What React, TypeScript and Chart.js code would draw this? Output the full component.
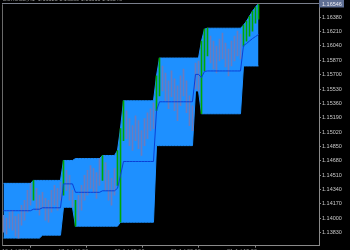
import React, { useEffect, useRef } from "react";
import { Chart, registerables } from "chart.js";

Chart.register(...registerables);

// ---- data ----
const chartTitle = "EURUSD,H1  1.16525 1.16560 1.16510 1.16546";
const bidPrice = 1.16546;

const priceTicks = [
  1.1638, 1.1621, 1.1604, 1.1587, 1.157, 1.1553, 1.1536, 1.1519,
  1.1502, 1.1485, 1.1468, 1.1451, 1.1434, 1.1417, 1.14, 1.1383,
];

const dateLabels = ["16 Jul 2020", "17 Jul 10:00", "20 Jul 05:00", "21 Jul 00:00", "21 Jul 19:00"];

const upperBand = [
  1.14413, 1.14413, 1.14413, 1.14413, 1.14413, 1.14413, 1.14413, 1.14413, 1.14413, 1.14413,
  1.14448, 1.14448, 1.14448, 1.14448, 1.14448, 1.14448, 1.14448, 1.14448, 1.14448, 1.14448,
  1.14684, 1.14684, 1.14684, 1.14684, 1.14707, 1.14707, 1.14707, 1.14707, 1.14707, 1.14707,
  1.14707, 1.14707, 1.14707, 1.14743, 1.14743, 1.14743, 1.14743, 1.14743, 1.14802, 1.15061,
  1.15391, 1.15391, 1.15391, 1.15391, 1.15391, 1.15391, 1.15391, 1.15391, 1.15391, 1.15391,
  1.15391, 1.15685, 1.15897, 1.15897, 1.15897, 1.15897, 1.15897, 1.15897, 1.15897, 1.15897,
  1.15897, 1.15897, 1.15897, 1.15897, 1.15897, 1.15897, 1.16097, 1.16239, 1.1625, 1.1625,
  1.1625, 1.1625, 1.1625, 1.1625, 1.1625, 1.1625, 1.1625, 1.1625, 1.1625, 1.1625,
  1.16286, 1.16333, 1.16392, 1.16451, 1.16498, 1.16546,
];

const lowerBand = [
  1.13765, 1.13765, 1.13765, 1.13765, 1.13765, 1.13765, 1.13765, 1.13765, 1.13765, 1.13765,
  1.13765, 1.13765, 1.13765, 1.138, 1.138, 1.138, 1.138, 1.138, 1.138, 1.138,
  1.1413, 1.1413, 1.1413, 1.1413, 1.13906, 1.13906, 1.13906, 1.13906, 1.13906, 1.13906,
  1.13906, 1.13906, 1.13906, 1.13906, 1.13906, 1.13906, 1.13906, 1.13906, 1.13906, 1.13953,
  1.13953, 1.13953, 1.13953, 1.13953, 1.13953, 1.13953, 1.13953, 1.13953, 1.13953, 1.13953,
  1.13953, 1.1486, 1.1486, 1.1486, 1.1486, 1.1486, 1.1486, 1.1486, 1.1486, 1.1486,
  1.1486, 1.1486, 1.1486, 1.1486, 1.15508, 1.15508, 1.15237, 1.15237, 1.15237, 1.15237,
  1.15237, 1.15237, 1.15237, 1.15237, 1.15237, 1.15237, 1.15237, 1.15237, 1.15237, 1.15237,
  1.15803, 1.15803, 1.15803, 1.15803, 1.15803, 1.15803,
];

const middleBand = [
  1.14089, 1.14089, 1.14089, 1.14089, 1.14089, 1.14089, 1.14089, 1.14089, 1.14089, 1.14089,
  1.14107, 1.14107, 1.14107, 1.14124, 1.14124, 1.14124, 1.14124, 1.14124, 1.14124, 1.14124,
  1.14407, 1.14407, 1.14407, 1.14407, 1.14307, 1.14307, 1.14307, 1.14307, 1.14307, 1.14307,
  1.14307, 1.14307, 1.14307, 1.14325, 1.14325, 1.14325, 1.14325, 1.14325, 1.14354, 1.14507,
  1.14672, 1.14672, 1.14672, 1.14672, 1.14672, 1.14672, 1.14672, 1.14672, 1.14672, 1.14672,
  1.14672, 1.15273, 1.15379, 1.15379, 1.15379, 1.15379, 1.15379, 1.15379, 1.15379, 1.15379,
  1.15379, 1.15379, 1.15379, 1.15379, 1.15703, 1.15703, 1.15667, 1.15738, 1.15744, 1.15744,
  1.15744, 1.15744, 1.15744, 1.15744, 1.15744, 1.15744, 1.15744, 1.15744, 1.15744, 1.15744,
  1.16045, 1.16068, 1.16098, 1.16127, 1.16151, 1.16175,
];

const barHigh = [
  1.14036, 1.14001, 1.14071, 1.14095, 1.14024, 1.14048, 1.14154, 1.14213, 1.1433, 1.14413,
  1.14448, 1.14354, 1.14272, 1.14307, 1.14236, 1.14213, 1.1433, 1.14389, 1.14354, 1.14425,
  1.14684, 1.14566, 1.14507, 1.1433, 1.14213, 1.14272, 1.14389, 1.14507, 1.14566, 1.14625,
  1.1459, 1.14542, 1.14707, 1.14743, 1.1466, 1.14566, 1.14472, 1.1459, 1.14802, 1.15061,
  1.15391, 1.15273, 1.15179, 1.15096, 1.15214, 1.15155, 1.15037, 1.15179, 1.15249, 1.15296,
  1.15367, 1.15685, 1.15897, 1.15803, 1.1572, 1.15626, 1.15744, 1.1565, 1.15567, 1.15685,
  1.15767, 1.15626, 1.15449, 1.15332, 1.15838, 1.15862, 1.16097, 1.16239, 1.1625, 1.16156,
  1.16097, 1.16038, 1.16121, 1.16191, 1.16074, 1.16003, 1.16097, 1.16156, 1.16215, 1.1618,
  1.16286, 1.16333, 1.16392, 1.16451, 1.16498, 1.16546,
];

const barLow = [
  1.13836, 1.13812, 1.13883, 1.13859, 1.13789, 1.13765, 1.13918, 1.13977, 1.14071, 1.14154,
  1.14213, 1.14095, 1.14036, 1.14118, 1.13977, 1.13953, 1.14071, 1.14154, 1.14095, 1.14213,
  1.14272, 1.1433, 1.14213, 1.1413, 1.13906, 1.13977, 1.14095, 1.14213, 1.14272, 1.14354,
  1.14307, 1.14236, 1.14389, 1.14448, 1.1433, 1.14213, 1.14154, 1.14272, 1.14389, 1.13953,
  1.14919, 1.14943, 1.1486, 1.14802, 1.14919, 1.14825, 1.14743, 1.1486, 1.14943, 1.15037,
  1.15061, 1.15273, 1.15449, 1.15508, 1.15391, 1.15296, 1.15438, 1.15273, 1.15155, 1.15332,
  1.15449, 1.15249, 1.15096, 1.15037, 1.15532, 1.15508, 1.15237, 1.15744, 1.15921, 1.15838,
  1.15767, 1.1572, 1.15862, 1.15885, 1.15791, 1.15685, 1.15803, 1.15862, 1.15921, 1.15885,
  1.16038, 1.16097, 1.16156, 1.16215, 1.16309, 1.16356,
];

// ---- layout / style constants ----
const Y_MIN = 1.13675;
const Y_MAX = 1.16533;
const X_MIN = -0.5;
const X_MAX = 105.17;
const BARS_PER_LABEL = 18.75;
const FILL = "#1E90FF";
const MID = "#0b3fd6";
const AXIS = "#8a8a8a";
const TEXT = "#c8c8c8";
const FONT = "'Liberation Sans', Arial, sans-serif";

const bgPlugin = {
  id: "mt4Background",
  beforeDraw(chart: any) {
    const ctx = chart.ctx;
    ctx.save();
    ctx.fillStyle = "#000000";
    ctx.fillRect(0, 0, chart.width, chart.height);
    ctx.restore();
  },
  afterDraw(chart: any) {
    const ctx = chart.ctx;
    const area = chart.chartArea;
    const yScale = chart.scales.y;
    ctx.save();
    ctx.strokeStyle = "#6a6a6a";
    ctx.lineWidth = 1;
    ctx.beginPath();
    ctx.moveTo(area.left + 0.5, area.top);
    ctx.lineTo(area.left + 0.5, area.bottom);
    ctx.stroke();
    const by = Math.round(yScale.getPixelForValue(bidPrice)) + 0.5;
    ctx.strokeStyle = "#7a7f8c";
    ctx.beginPath();
    ctx.moveTo(area.left, by);
    ctx.lineTo(area.right, by);
    ctx.stroke();
    ctx.fillStyle = "#5f6f94";
    ctx.fillRect(area.right, by - 4, 25, 8);
    ctx.fillStyle = "#e8e8f0";
    ctx.font = `5.5px ${FONT}`;
    ctx.textBaseline = "middle";
    ctx.textAlign = "left";
    ctx.fillText(bidPrice.toFixed(5), area.right + 3, by + 0.5);
    ctx.fillStyle = "#9a9a9a";
    ctx.textBaseline = "bottom";
    ctx.fillText(chartTitle, area.left + 1, 2.5);
    ctx.restore();
  },
};

export default function App() {
  const ref = useRef<HTMLCanvasElement | null>(null);

  useEffect(() => {
    document.body.style.margin = "0";
    document.body.style.background = "#000";
    const canvas = ref.current;
    if (!canvas) return;
    const pts = (arr: number[]) => arr.map((y, i) => ({ x: i, y }));
    const isEdge = (i: number) =>
      (i > 0 && upperBand[i] > upperBand[i - 1] && barHigh[i] >= upperBand[i] - 0.000005) ||
      (i > 0 && lowerBand[i] < lowerBand[i - 1] && barLow[i] <= lowerBand[i] + 0.000005);

    const chart = new Chart(canvas, {
      data: {
        datasets: [
          {
            type: "line",
            label: "Middle",
            data: pts(middleBand),
            borderColor: MID,
            borderWidth: 1,
            pointRadius: 0,
            fill: false,
            tension: 0,
            order: 0,
          },
          {
            type: "bar",
            label: "Bars",
            data: barHigh.map((h, i) => ({ x: i, y: [barLow[i], h] })),
            backgroundColor: (c: any) => (isEdge(c.dataIndex) ? "#00a800" : "#6c7bbd"),
            barThickness: 1,
            order: 1,
          },
          {
            type: "line",
            label: "Upper",
            data: pts(upperBand),
            borderColor: FILL,
            backgroundColor: FILL,
            borderWidth: 1,
            pointRadius: 0,
            fill: "+1",
            tension: 0,
            order: 2,
          },
          {
            type: "line",
            label: "Lower",
            data: pts(lowerBand),
            borderColor: FILL,
            borderWidth: 1,
            pointRadius: 0,
            fill: false,
            tension: 0,
            order: 3,
          },
        ] as any,
      },
      options: {
        animation: false,
        responsive: false,
        devicePixelRatio: 1,
        layout: { padding: { left: 2, top: 3, right: 0, bottom: 0 } },
        plugins: { legend: { display: false }, tooltip: { enabled: false } },
        scales: {
          x: {
            type: "linear",
            min: X_MIN,
            max: X_MAX,
            offset: false,
            afterBuildTicks: (s: any) => {
              s.ticks = dateLabels.map((_, k) => ({ value: k * BARS_PER_LABEL + X_MIN }));
            },
            afterFit: (s: any) => {
              s.height = 4;
            },
            ticks: {
              autoSkip: false,
              maxRotation: 0,
              align: "start",
              padding: 0,
              color: TEXT,
              font: { family: FONT, size: 5.5 },
              callback: (_v: any, idx: number) => dateLabels[idx],
            },
            grid: { display: true, drawOnChartArea: false, drawTicks: true, tickLength: 2, color: AXIS },
            border: { display: true, color: AXIS },
          },
          y: {
            type: "linear",
            position: "right",
            min: Y_MIN,
            max: Y_MAX,
            afterBuildTicks: (s: any) => {
              s.ticks = priceTicks.map((v) => ({ value: v }));
            },
            afterFit: (s: any) => {
              s.width = 31;
            },
            ticks: {
              autoSkip: false,
              padding: 1,
              color: TEXT,
              font: { family: FONT, size: 5.5 },
              callback: (v: any) => Number(v).toFixed(5),
            },
            grid: { display: true, drawOnChartArea: false, drawTicks: true, tickLength: 2, color: AXIS },
            border: { display: true, color: AXIS },
          },
        },
      } as any,
      plugins: [bgPlugin],
    });
    return () => chart.destroy();
  }, []);

  return (
    <div style={{ width: 350, height: 250, background: "#000" }}>
      <canvas ref={ref} width={350} height={250} style={{ display: "block" }} />
    </div>
  );
}
